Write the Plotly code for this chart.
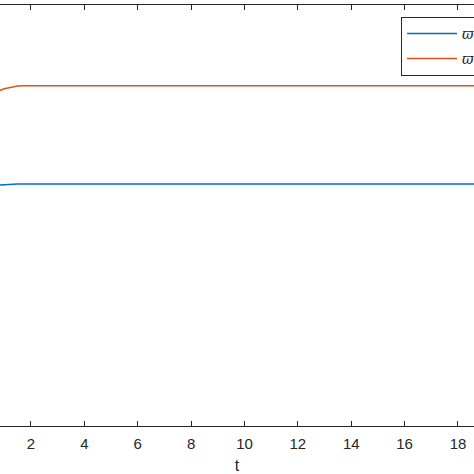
import plotly.graph_objects as go

t = [0, 0.25, 0.5, 0.75, 1.0, 1.25, 1.5, 1.75, 2, 3, 4, 6, 8, 10, 12, 14, 16, 18, 20]
w_blue = [0.560, 0.565, 0.569, 0.572, 0.5735, 0.5745, 0.575, 0.575, 0.575, 0.575, 0.575,
          0.575, 0.575, 0.575, 0.575, 0.575, 0.575, 0.575, 0.575]
w_orange = [0.755, 0.772, 0.785, 0.795, 0.801, 0.805, 0.8075, 0.808, 0.808, 0.808, 0.808,
            0.808, 0.808, 0.808, 0.808, 0.808, 0.808, 0.808, 0.808]
xticks = [2, 4, 6, 8, 10, 12, 14, 16, 18]
names = ["<i>ϖ</i>", "<i>ϖ</i><sub>1</sub>"]

fig = go.Figure()
fig.add_trace(go.Scatter(x=t, y=w_blue, mode="lines", name=names[0],
                         line=dict(color="#0072BD", width=1.5), legendgroup="a"))
fig.add_trace(go.Scatter(x=t, y=w_orange, mode="lines", name=names[1],
                         line=dict(color="#D95319", width=1.5), legendgroup="b"))

fig.update_layout(
    width=474, height=474,
    margin=dict(l=0, r=0, t=5, b=48, autoexpand=False),
    plot_bgcolor="white", paper_bgcolor="white",
    font=dict(family="Liberation Sans, Arial, sans-serif", size=15, color="#262626"),
    showlegend=True,
    legend=dict(x=0.846, y=0.972, xanchor="left", yanchor="top",
                bgcolor="white", bordercolor="#262626", borderwidth=1,
                font=dict(size=14, family="DejaVu Serif, serif"),
                itemwidth=50,
                tracegroupgap=4, traceorder="grouped"),
    xaxis=dict(range=[0.84, 18.6], tickvals=xticks, ticks="inside", ticklen=5,
               tickcolor="#262626", showline=True, linecolor="#262626", linewidth=1,
               mirror="ticks", showgrid=False, zeroline=False, ticklabelstandoff=4,
               title=dict(text="t", standoff=9, font=dict(size=16))),
    yaxis=dict(range=[0, 1], showticklabels=False, ticks="", showgrid=False,
               zeroline=False, showline=False),
)
fig.write_html("out.html", config={"displayModeBar": False},
               post_script="document.body.style.margin='0';")
